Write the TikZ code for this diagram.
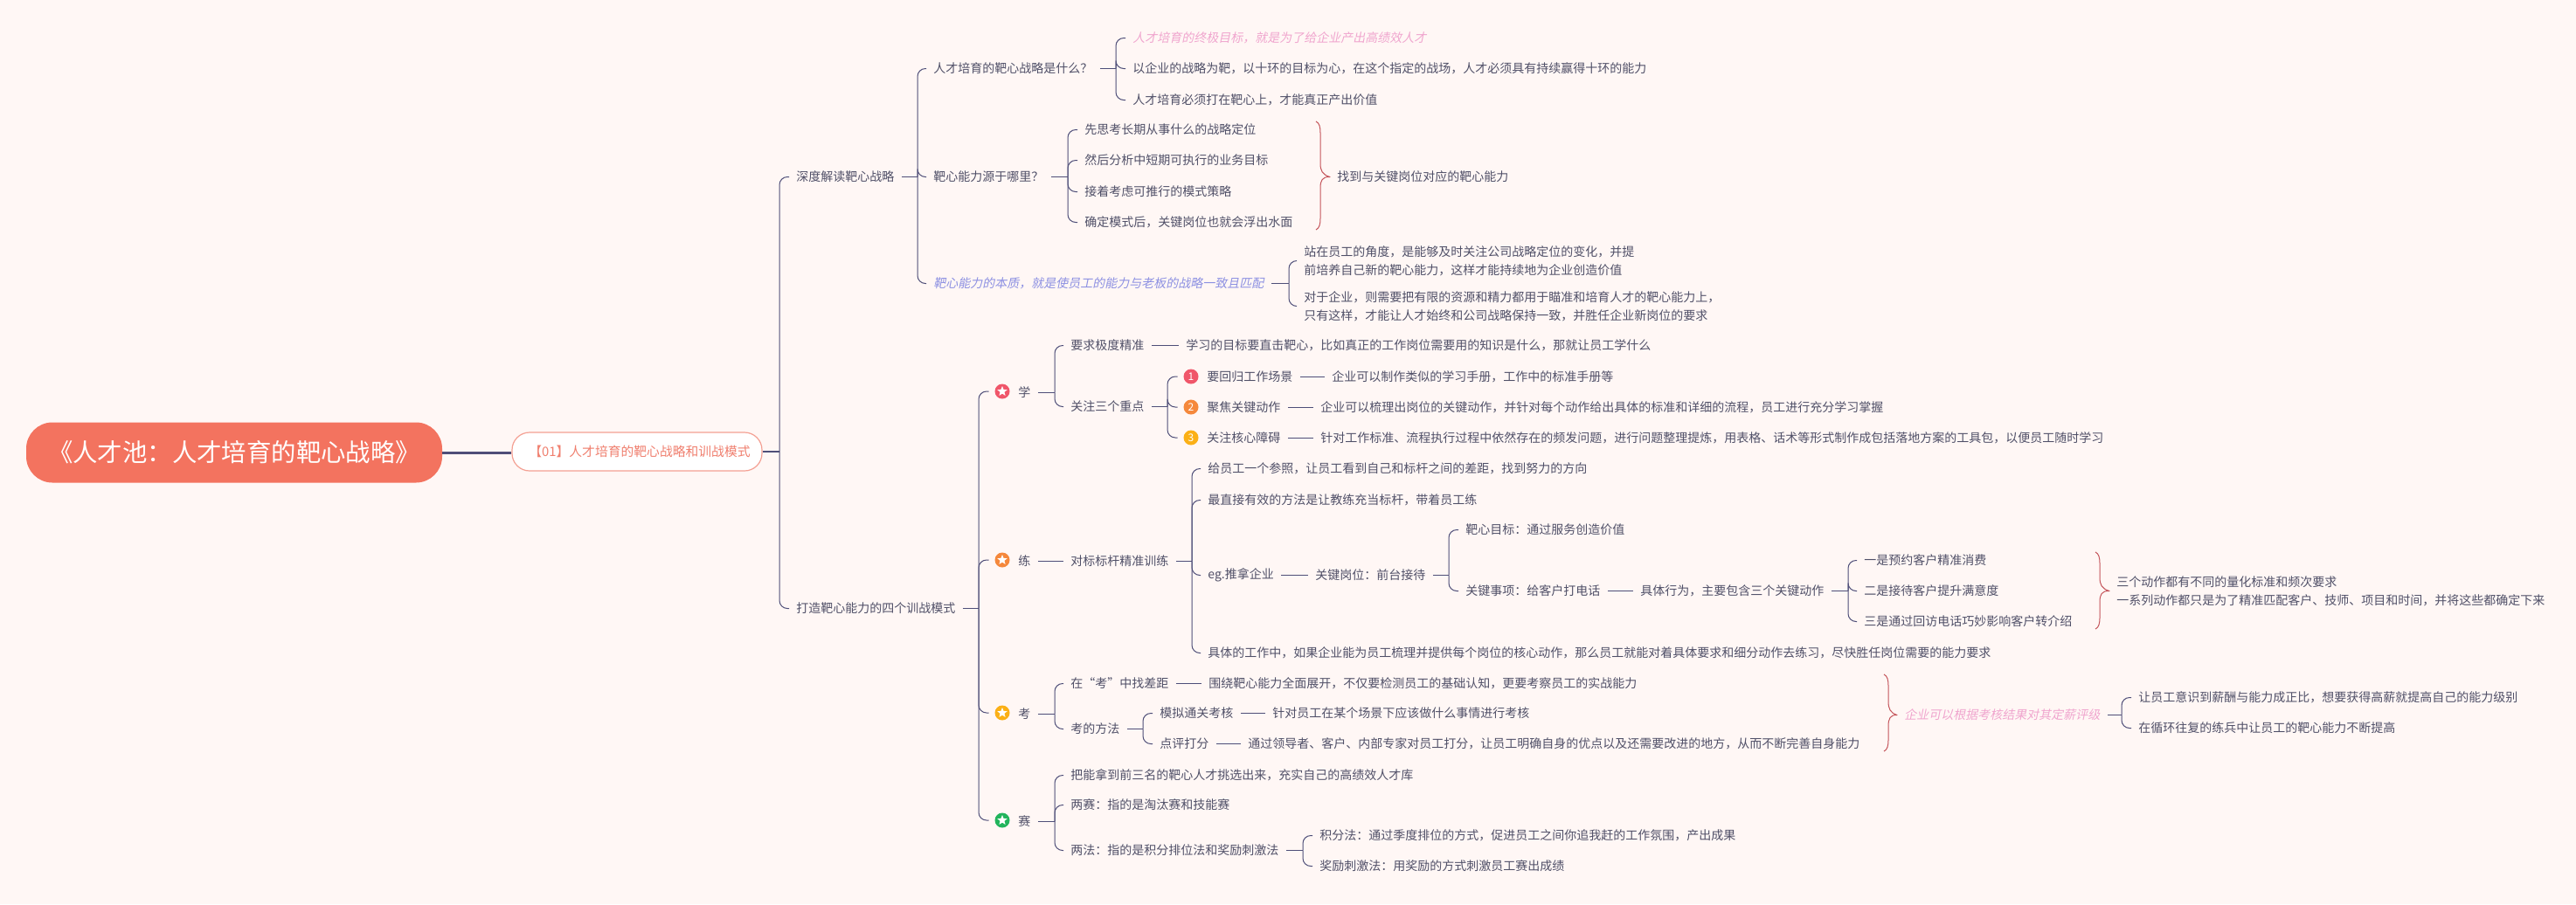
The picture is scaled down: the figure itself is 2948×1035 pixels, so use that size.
\documentclass[tikz,border=0pt]{standalone}
\usepackage{fontspec}
\setmainfont{Noto Sans CJK SC}
\newfontfamily\slantfont[FakeSlant=0.2]{Noto Sans CJK SC}
\usetikzlibrary{shapes.geometric}
\definecolor{bgc}{HTML}{FFF7F5}
\definecolor{txtc}{HTML}{505068}
\definecolor{linec}{HTML}{4E4E78}
\definecolor{rootc}{HTML}{F3735F}
\definecolor{subc}{HTML}{F0806F}
\definecolor{pinkc}{HTML}{F0A5CE}
\definecolor{purc}{HTML}{8C90E2}
\definecolor{redb}{HTML}{C4545A}
\definecolor{ic1}{HTML}{F0566A}
\definecolor{ic2}{HTML}{F5883C}
\definecolor{ic3}{HTML}{FBB016}
\definecolor{ic4}{HTML}{22B45C}
\tikzset{
  txt/.style={anchor=west,inner xsep=4pt,inner ysep=1pt,text=txtc,align=left,font=\fontsize{7}{10.5}\selectfont},
  pinktxt/.style={txt,text=pinkc,font=\fontsize{7}{10.5}\slantfont},
  purtxt/.style={txt,text=purc,font=\fontsize{7}{10.5}\slantfont},
  conn/.style={draw=linec,line width=0.5pt},
  curve/.style={conn,rounded corners=4.5pt},
  stubline/.style={draw=linec,line width=0.9pt},
  thinstub/.style={draw=linec,line width=0.55pt},
  rb/.style={draw=redb,line width=0.5pt,line join=round},
  icon/.style={circle,minimum size=8.5pt,inner sep=0pt,outer sep=3.5pt,draw=none},
  starmark/.style={star,star points=5,star point ratio=2.3,fill=white,draw=none,minimum size=6pt,inner sep=0pt},
  nummark/.style={text=white,inner sep=0pt,font=\fontsize{6}{6}\selectfont},
}
\newcommand{\tn}[5][txt]{\node[#1] (#2) at (#3-8,#4+1.5) {#5};}
% parent, bracket x, comma list of children
\newcommand{\brk}[4][stubline]{%
  \coordinate (B#2) at (#3,0);
  \foreach \c in {#4} {\draw[curve] (#2.east -| B#2) |- (\c.west);}
  \draw[#1] (#2.east) -- (#2.east -| B#2);}
\newcommand{\lnk}[2]{\draw[thinstub] (#1.east) -- (#2.west);}
% node, left x, top, bottom, mid
\newcommand{\rbr}[5]{%
  \coordinate (T#1) at (#2,#3);
  \coordinate (U#1) at (#2,#4);
  \draw[rb] (T#1) .. controls (#2+4,#3+2) and (#2+5,#3+6) .. (#2+5,#3+14)
    -- (#2+5,#5-14) .. controls (#2+5,#5-6) and (#2+7,#5-1) .. (#1.west)
    .. controls (#2+7,#5+1) and (#2+5,#5+6) .. (#2+5,#5+14)
    -- (#2+5,#4-14) .. controls (#2+5,#4-6) and (#2+4,#4-2) .. (U#1);}
\newcommand{\staricon}[4]{%
  \node[icon,fill=#4] (#1) at (#2,#3) {};
  \node[starmark] (#1s) at (#2,#3) {};}
\newcommand{\numicon}[5]{%
  \node[icon,fill=#4] (#1) at (#2,#3) {};
  \node[nummark] (#1n) at (#2,#3) {#5};}
\begin{document}
\begin{tikzpicture}[x=0.5pt,y=-0.5pt]
\useasboundingbox[fill=bgc] (0,0) rectangle (2948,1035);
% root
\node[fill=rootc,text=white,rounded corners=15pt,minimum width=238pt,minimum height=34.5pt,inner sep=0pt,font=\fontsize{14.2}{16}\selectfont] (root) at (268,518) {《人才池：人才培育的靶心战略》};
\node[fill=white,draw=subc!75,line width=0.6pt,text=subc,rounded corners=10pt,minimum width=143pt,minimum height=22pt,inner sep=0pt,font=\fontsize{7.4}{9}\selectfont] (sub) at (729,517) {\hspace*{3pt}【01】人才培育的靶心战略和训战模式};
\draw[draw=linec,line width=1.5pt] (root.east) -- (root.east -| sub.west);
% level 1
\tn{a}{911}{201}{深度解读靶心战略}
\tn{b}{911}{695}{打造靶心能力的四个训战模式}
% a branch
\tn{a1}{1068}{77}{人才培育的靶心战略是什么？}
\tn{a2}{1068}{201}{靶心能力源于哪里？}
\tn[purtxt]{a3}{1068}{323}{靶心能力的本质，就是使员工的能力与老板的战略一致且匹配}
\tn[pinktxt]{a11}{1296}{42}{人才培育的终极目标，就是为了给企业产出高绩效人才}
\tn{a12}{1296}{77}{以企业的战略为靶，以十环的目标为心，在这个指定的战场，人才必须具有持续赢得十环的能力}
\tn{a13}{1296}{113}{人才培育必须打在靶心上，才能真正产出价值}
\tn{a21}{1241}{147}{先思考长期从事什么的战略定位}
\tn{a22}{1241}{182}{然后分析中短期可执行的业务目标}
\tn{a23}{1241}{218}{接着考虑可推行的模式策略}
\tn{a24}{1241}{253}{确定模式后，关键岗位也就会浮出水面}
\tn{a2s}{1530}{201}{找到与关键岗位对应的靶心能力}
\tn{a31}{1492}{297}{站在员工的角度，是能够及时关注公司战略定位的变化，并提\\前培养自己新的靶心能力，这样才能持续地为企业创造价值}
\tn{a32}{1492}{349}{对于企业，则需要把有限的资源和精力都用于瞄准和培育人才的靶心能力上，\\只有这样，才能让人才始终和公司战略保持一致，并胜任企业新岗位的要求}
% xue
\staricon{x}{1147}{448}{ic1}
\tn{xt}{1165}{448}{学}
\tn{x1}{1225}{394}{要求极度精准}
\tn{x1d}{1357}{394}{学习的目标要直击靶心，比如真正的工作岗位需要用的知识是什么，那就让员工学什么}
\tn{x2}{1225}{464}{关注三个重点}
\numicon{n1}{1363}{431}{ic1}{1}
\numicon{n2}{1363}{466}{ic2}{2}
\numicon{n3}{1363}{501}{ic3}{3}
\tn{n1t}{1381}{430}{要回归工作场景}
\tn{n2t}{1381}{465}{聚焦关键动作}
\tn{n3t}{1381}{500}{关注核心障碍}
\tn{n1d}{1524}{430}{企业可以制作类似的学习手册，工作中的标准手册等}
\tn{n2d}{1511}{465}{企业可以梳理出岗位的关键动作，并针对每个动作给出具体的标准和详细的流程，员工进行充分学习掌握}
\tn{n3d}{1511}{500}{针对工作标准、流程执行过程中依然存在的频发问题，进行问题整理提炼，用表格、话术等形式制作成包括落地方案的工具包，以便员工随时学习}
% lian
\staricon{l}{1147}{641}{ic2}
\tn{lt}{1165}{641}{练}
\tn{l0}{1225}{641}{对标标杆精准训练}
\tn{l1}{1382}{535}{给员工一个参照，让员工看到自己和标杆之间的差距，找到努力的方向}
\tn{l2}{1382}{571}{最直接有效的方法是让教练充当标杆，带着员工练}
\tn{l3}{1382}{657}{eg.推拿企业}
\tn{l4}{1382}{746}{具体的工作中，如果企业能为员工梳理并提供每个岗位的核心动作，那么员工就能对着具体要求和细分动作去练习，尽快胜任岗位需要的能力要求}
\tn{l3a}{1505}{657}{关键岗位：前台接待}
\tn{l3b}{1677}{605}{靶心目标：通过服务创造价值}
\tn{l3c}{1677}{675}{关键事项：给客户打电话}
\tn{l3d}{1877}{675}{具体行为，主要包含三个关键动作}
\tn{l31}{2133}{640}{一是预约客户精准消费}
\tn{l32}{2133}{675}{二是接待客户提升满意度}
\tn{l33}{2133}{710}{三是通过回访电话巧妙影响客户转介绍}
\tn{l3s}{2422}{675}{三个动作都有不同的量化标准和频次要求\\一系列动作都只是为了精准匹配客户、技师、项目和时间，并将这些都确定下来}
% kao
\staricon{k}{1147}{816}{ic3}
\tn{kt}{1165}{816}{考}
\tn{k1}{1225}{781}{在“考”中找差距}
\tn{k1d}{1383}{781}{围绕靶心能力全面展开，不仅要检测员工的基础认知，更要考察员工的实战能力}
\tn{k2}{1225}{833}{考的方法}
\tn{k21}{1327}{815}{模拟通关考核}
\tn{k21d}{1456}{815}{针对员工在某个场景下应该做什么事情进行考核}
\tn{k22}{1327}{850}{点评打分}
\tn{k22d}{1428}{850}{通过领导者、客户、内部专家对员工打分，让员工明确自身的优点以及还需要改进的地方，从而不断完善自身能力}
\tn[pinktxt]{ks}{2179}{817}{企业可以根据考核结果对其定薪评级}
\tn{ks1}{2447}{797}{让员工意识到薪酬与能力成正比，想要获得高薪就提高自己的能力级别}
\tn{ks2}{2447}{832}{在循环往复的练兵中让员工的靶心能力不断提高}
% sai
\staricon{s}{1147}{939}{ic4}
\tn{st}{1165}{939}{赛}
\tn{s1}{1225}{886}{把能拿到前三名的靶心人才挑选出来，充实自己的高绩效人才库}
\tn{s2}{1225}{920}{两赛：指的是淘汰赛和技能赛}
\tn{s3}{1225}{972}{两法：指的是积分排位法和奖励刺激法}
\tn{s31}{1510}{955}{积分法：通过季度排位的方式，促进员工之间你追我赶的工作氛围，产出成果}
\tn{s32}{1510}{990}{奖励刺激法：用奖励的方式刺激员工赛出成绩}
% connectors
\brk[thinstub]{sub}{892}{a,b}
\brk{a}{1050}{a1,a2,a3}
\brk{a1}{1277}{a11,a12,a13}
\brk[thinstub]{a2}{1222}{a21,a22,a23,a24}
\brk[thinstub]{a3}{1475}{a31,a32}
\brk[thinstub]{b}{1120}{x,l,k,s}
\brk[thinstub]{xt}{1207}{x1,x2}
\brk{x2}{1336}{n1,n2,n3}
\lnk{x1}{x1d}
\lnk{n1t}{n1d}
\lnk{n2t}{n2d}
\lnk{n3t}{n3d}
\lnk{lt}{l0}
\brk{l0}{1364}{l1,l2,l3,l4}
\lnk{l3}{l3a}
\brk{l3a}{1658}{l3b,l3c}
\lnk{l3c}{l3d}
\brk[thinstub]{l3d}{2115}{l31,l32,l33}
\brk[thinstub]{kt}{1207}{k1,k2}
\lnk{k1}{k1d}
\brk{k2}{1308}{k21,k22}
\lnk{k21}{k21d}
\lnk{k22}{k22d}
\brk[thinstub]{ks}{2428}{ks1,ks2}
\brk{st}{1207}{s1,s2,s3}
\brk{s3}{1491}{s31,s32}
% red braces
\rbr{a2s}{1506}{139}{263}{201}
\rbr{l3s}{2398}{632}{720}{675}
\rbr{ks}{2156}{772}{860}{817}
\end{tikzpicture}
\end{document}
